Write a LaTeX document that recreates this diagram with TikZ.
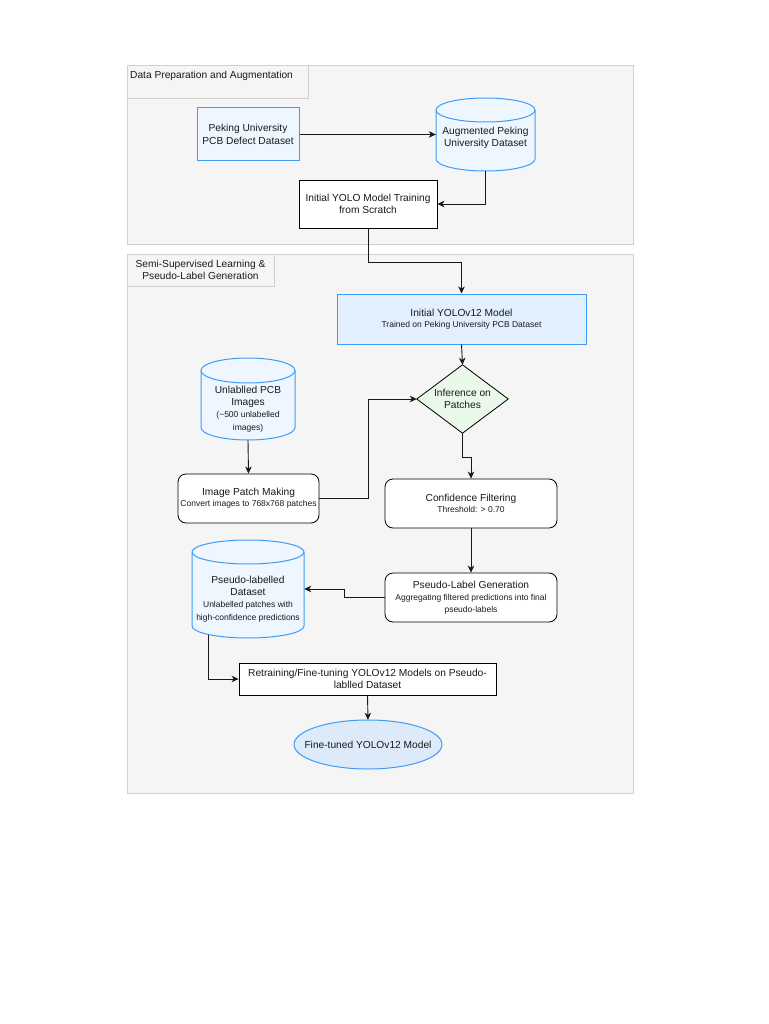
\documentclass[tikz,border=0pt]{standalone}
\usepackage{fontspec}
\setmainfont{Liberation Sans}
\usetikzlibrary{arrows.meta,shapes.geometric,calc}
\definecolor{contfill}{HTML}{F5F5F5}
\definecolor{contline}{HTML}{D0D0D0}
\definecolor{bluel}{HTML}{3D9CF5}
\definecolor{bluef}{HTML}{EEF6FF}
\definecolor{bluef2}{HTML}{E1EFFE}
\definecolor{greenf}{HTML}{EAF8EA}
\definecolor{ellf}{HTML}{DCEAFA}
\definecolor{txt}{HTML}{1A1A1A}
\newcommand{\mainf}{\fontsize{10.2}{12.3}\selectfont}
\newcommand{\smallf}{\fontsize{8.5}{12.3}\selectfont}
\newcommand{\dbcyl}[5]{%
  \pgfmathsetmacro{\rxx}{(#2-#1)/2}%
  \filldraw[draw=bluel,fill=bluef,line width=1pt] (#1,#3-#5) -- (#1,#4+#5)
    arc[start angle=180,end angle=360,x radius=\rxx,y radius=#5] -- (#2,#3-#5)
    arc[start angle=0,end angle=180,x radius=\rxx,y radius=#5] -- cycle;
  \draw[draw=bluel,line width=1pt] (#1,#3-#5) arc[start angle=180,end angle=360,x radius=\rxx,y radius=#5];
}
\tikzset{
  cont/.style={draw=contline,fill=contfill,line width=0.8pt},
  bx/.style={draw=black,fill=white,line width=0.8pt,rectangle,inner sep=0pt,align=center,text=txt,font=\mainf},
  bluebox/.style={draw=bluel,fill=bluef,line width=1pt,rectangle,inner sep=0pt,align=center,text=txt,font=\mainf},
  rbox/.style={bx,rounded corners=8pt},
  ghost/.style={draw=none,rectangle,inner sep=0pt},
  tx/.style={inner sep=0pt,align=center,text=txt,font=\mainf},
  conn/.style={draw=black!90,line width=0.9pt,-{Stealth[length=7pt,width=6.5pt,inset=2pt]}},
}
\begin{document}
\begin{tikzpicture}[x=1pt,y=1pt]
\useasboundingbox (0,0) rectangle (768,-1024);
\fill[white] (0,0) rectangle (768,-1024);

% containers
\draw[cont] (127,-65) rectangle (633,-244);
\draw[cont] (127,-65) rectangle (308,-98);
\node[tx,anchor=west] (lab1) at (130,-76) {Data Preparation and Augmentation};

\draw[cont] (127,-254) rectangle (633,-793);
\draw[cont] (127,-254) rectangle (274,-286);
\node[tx] (lab2) at (200.5,-270) {Semi-Supervised Learning \&\\Pseudo-Label Generation};

% top section
\node[bluebox,minimum width=102pt,minimum height=53pt] (pku) at (248,-134.5) {Peking University\\PCB Defect Dataset};
\dbcyl{436}{535}{-98}{-171}{12}
\node[ghost,minimum width=99pt,minimum height=73pt] (aug) at (485.5,-134.5) {};
\node[tx] (augt) at (485.5,-138) {Augmented Peking\\University Dataset};
\node[bx,minimum width=138pt,minimum height=48pt] (init) at (368,-204) {Initial YOLO Model Training\\from Scratch};

\draw[conn] (pku.east) -- (aug.west);
\draw[conn] (aug.south) |- (init.east);

% middle section
\node[bluebox,fill=bluef2,minimum width=249pt,minimum height=50pt] (y12) at (461.5,-319)
  {Initial YOLOv12 Model\\[-1pt]{\smallf Trained on Peking University PCB Dataset}};
\draw[conn] (init.south) -- ++(0,-34) -| (y12.north);

\node[ghost,minimum width=91pt,minimum height=68pt] (inf) at (462.5,-399) {};
\filldraw[draw=black,fill=greenf,line width=0.8pt] (inf.north) -- (inf.east) -- (inf.south) -- (inf.west) -- cycle;
\node[tx] (inft) at (inf.center) {Inference on\\Patches};
\draw[conn] (y12.south) -- (inf.north);

\dbcyl{201}{295}{-358}{-440}{12.5}
\node[ghost,minimum width=94pt,minimum height=82pt] (unl) at (248,-399) {};
\node[tx] (unlt) at (248,-409) {Unlablled PCB\\Images\\{\smallf (\textasciitilde500 unlabelled}\\{\smallf images)}};

\node[rbox,minimum width=141pt,minimum height=49pt] (ipm) at (248.5,-498.5)
  {Image Patch Making\\[-1pt]{\smallf Convert images to 768x768 patches}};
\draw[conn] (unl.south) -- (ipm.north);
\draw[conn] (ipm.east) -- ++(49.5,0) |- (inf.west);

\node[rbox,minimum width=172pt,minimum height=49pt] (conf) at (471,-503.5)
  {Confidence Filtering\\[-1pt]{\smallf Threshold: > 0.70}};
\draw[conn] (inf.south) -- ++(0,-24) -| (conf.north);

\node[rbox,minimum width=172pt,minimum height=49pt] (plg) at (471,-597.5)
  {Pseudo-Label Generation\\{\smallf Aggregating filtered predictions into final}\\{\smallf pseudo-labels}};
\draw[conn] (conf.south) -- (plg.north);

\dbcyl{192}{304}{-540}{-638}{12}
\node[ghost,minimum width=112pt,minimum height=98pt] (pld) at (248,-589) {};
\node[tx] (pldt) at (248,-599) {Pseudo-labelled\\Dataset\\{\smallf Unlabelled patches with}\\{\smallf high-confidence predictions}};
\draw[conn] (plg.west) -- ++(-40,0) |- (pld.east);

% bottom
\node[bx,minimum width=257pt,minimum height=32pt] (ret) at (367.5,-679)
  {Retraining/Fine-tuning YOLOv12 Models on Pseudo-\\lablled Dataset};
\coordinate (pldb) at (208,-634.5);
\draw[conn] (pldb) |- (ret.west);

\filldraw[draw=bluel,fill=ellf,line width=1pt] (368,-744.5) ellipse [x radius=74, y radius=24.5];
\node[ghost,minimum width=148pt,minimum height=49pt,text=txt,font=\mainf] (ft) at (368,-744.5) {Fine-tuned YOLOv12 Model};
\draw[conn] (ret.south) -- (ft.north);
\end{tikzpicture}
\end{document}
